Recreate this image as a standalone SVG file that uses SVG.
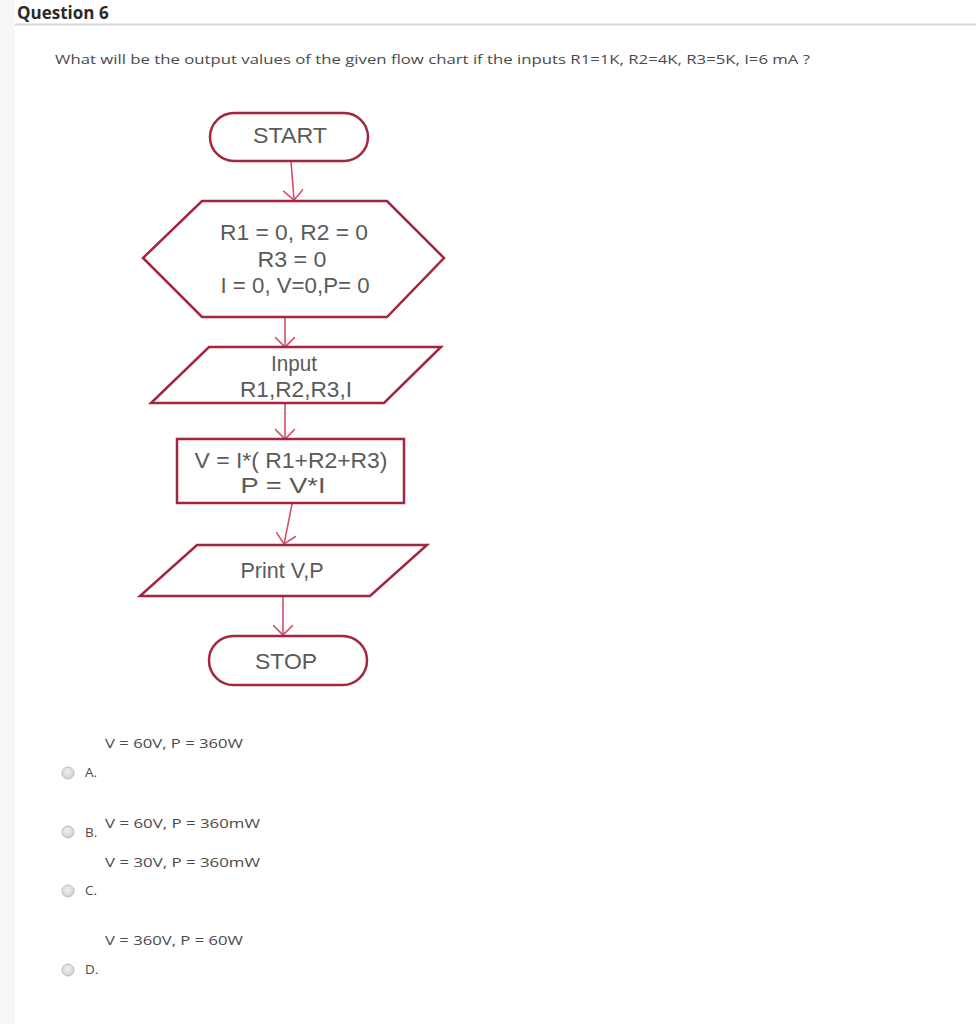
<svg xmlns="http://www.w3.org/2000/svg" width="976" height="1024" viewBox="0 0 976 1024">
<defs>
<style>
.ui{font-family:"Open Sans","Liberation Sans",sans-serif;fill:#4a4a4a;font-size:13.5px}
.hd{font-family:"Open Sans","Liberation Sans",sans-serif;font-weight:bold;fill:#2a2a2a;font-size:17px}
.sh{fill:#fff;stroke:#a3263e;stroke-width:2.5;stroke-linejoin:miter}
.tx{font-family:"Liberation Sans",Arial,sans-serif;fill:#5a5a5a;font-size:22.5px;text-anchor:middle}
.cn{fill:none;stroke:#d4506a;stroke-width:1.6}
.rd{fill:url(#rg);stroke:#bdbdbd;stroke-width:1}
</style>
<radialGradient id="rg" cx="0.45" cy="0.4" r="0.6">
<stop offset="0" stop-color="#f2f2f2"/>
<stop offset="1" stop-color="#cfcfcf"/>
</radialGradient>
<marker id="ah" viewBox="0 0 20 20" refX="18" refY="10" markerWidth="20" markerHeight="20" markerUnits="userSpaceOnUse" orient="auto">
<path d="M8,0 L18,10 L8,20" fill="none" stroke="#d4506a" stroke-width="1.6"/>
</marker>
</defs>
<rect width="976" height="1024" fill="#fff"/>
<rect x="0" y="0" width="15" height="1024" fill="#f6f6f6"/>
<line x1="15" y1="24.5" x2="976" y2="24.5" stroke="#d6d6d6" stroke-width="2"/>
<text class="hd" x="17" y="19">Question 6</text>
<text class="ui" x="55" y="64" textLength="755" lengthAdjust="spacingAndGlyphs">What will be the output values of the given flow chart if the inputs R1=1K, R2=4K, R3=5K, I=6 mA ?</text>

<g id="connectors">
<path class="cn" d="M291,161 L294,200" marker-end="url(#ah)"/>
<path class="cn" d="M285,318 L285,347" marker-end="url(#ah)"/>
<path class="cn" d="M285,404 L285,439" marker-end="url(#ah)"/>
<path class="cn" d="M292,504 Q288,525 284,544" marker-end="url(#ah)"/>
<path class="cn" d="M283,597 L283,635" marker-end="url(#ah)"/>
</g>

<g id="start">
<rect class="sh" x="210" y="113" width="158" height="48" rx="24"/>
<text class="tx" x="290" y="143" textLength="74" lengthAdjust="spacingAndGlyphs">START</text>
</g>
<g id="init">
<polygon class="sh" points="202,201 387,201 444,258 387,317 202,317 143,258"/>
<text class="tx" x="294" y="240" textLength="148" lengthAdjust="spacingAndGlyphs">R1 = 0, R2 = 0</text>
<text class="tx" x="292" y="267" textLength="69" lengthAdjust="spacingAndGlyphs">R3 = 0</text>
<text class="tx" x="295" y="293" textLength="149" lengthAdjust="spacingAndGlyphs">I = 0, V=0,P= 0</text>
</g>
<g id="input">
<polygon class="sh" points="209,347 441,347 384,403 151,403"/>
<text class="tx" x="294" y="371" textLength="46" lengthAdjust="spacingAndGlyphs">Input</text>
<text class="tx" x="296" y="397" textLength="112" lengthAdjust="spacingAndGlyphs">R1,R2,R3,I</text>
</g>
<g id="process">
<rect class="sh" x="177" y="439" width="227" height="64"/>
<text class="tx" x="291" y="468" textLength="193" lengthAdjust="spacingAndGlyphs">V = I*( R1+R2+R3)</text>
<text class="tx" x="283" y="493" textLength="85" lengthAdjust="spacingAndGlyphs">P = V*I</text>
</g>
<g id="print">
<polygon class="sh" points="197,545 427,545 370,596 140,596"/>
<text class="tx" x="282" y="578" textLength="83" lengthAdjust="spacingAndGlyphs">Print V,P</text>
</g>
<g id="stop">
<rect class="sh" x="209" y="636" width="158" height="49" rx="24.5"/>
<text class="tx" x="286" y="669" textLength="62" lengthAdjust="spacingAndGlyphs">STOP</text>
</g>

<g id="options">
<text class="ui" x="105" y="748" textLength="138" lengthAdjust="spacingAndGlyphs">V = 60V, P = 360W</text>
<circle class="rd" cx="68" cy="773" r="6"/>
<text class="ui" x="85" y="777">A.</text>
<text class="ui" x="105" y="828" textLength="155" lengthAdjust="spacingAndGlyphs">V = 60V, P = 360mW</text>
<circle class="rd" cx="68" cy="832" r="6"/>
<text class="ui" x="85" y="837">B.</text>
<text class="ui" x="105" y="867" textLength="155" lengthAdjust="spacingAndGlyphs">V = 30V, P = 360mW</text>
<circle class="rd" cx="68" cy="891" r="6"/>
<text class="ui" x="85" y="895">C.</text>
<text class="ui" x="105" y="945" textLength="138" lengthAdjust="spacingAndGlyphs">V = 360V, P = 60W</text>
<circle class="rd" cx="68" cy="970" r="6"/>
<text class="ui" x="85" y="974">D.</text>
</g>
</svg>
